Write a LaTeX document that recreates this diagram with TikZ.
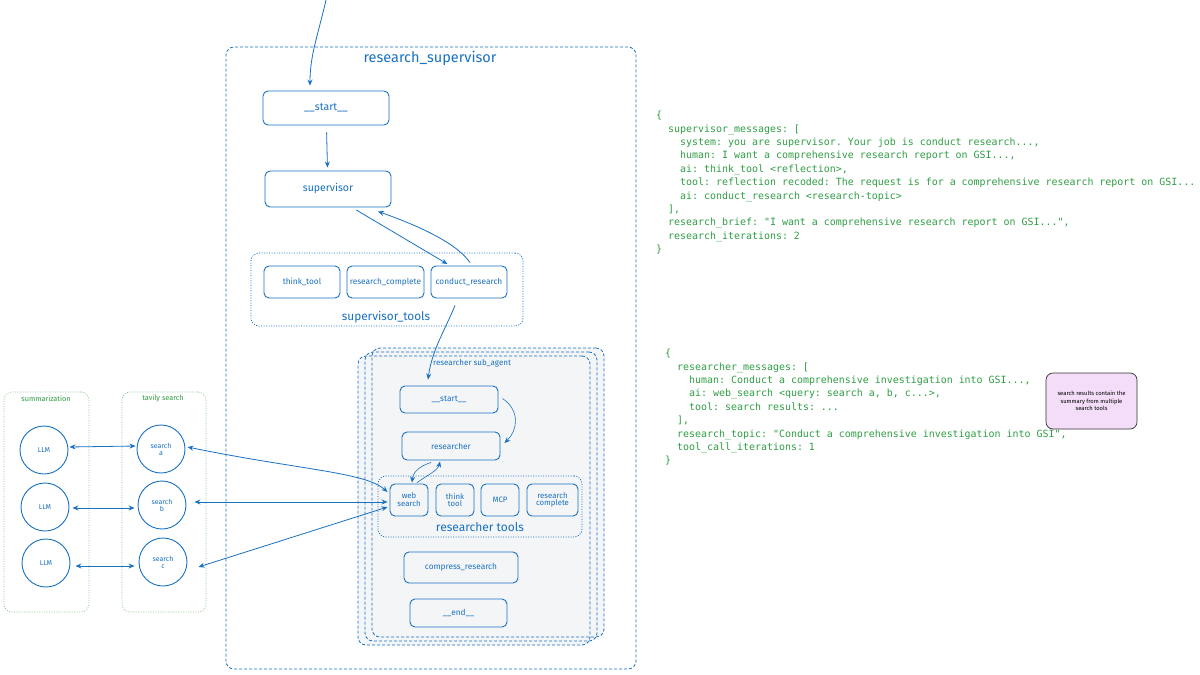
\documentclass[tikz,border=0pt]{standalone}
\usepackage{fontspec}
\setmainfont{Fira Sans}
\setmonofont{DejaVu Sans Mono}
\usetikzlibrary{arrows.meta}
\definecolor{exblue}{HTML}{1971C2}
\definecolor{exgreen}{HTML}{2F9E44}
\definecolor{lgreen}{HTML}{8CC896}
\definecolor{subfill}{HTML}{F3F5F7}
\definecolor{notefill}{HTML}{F3DDF8}
\newcommand{\ind}[1]{\hspace*{#1pt}}
\newcommand{\fs}[1]{\fontsize{#1}{#1}\selectfont}
\begin{document}
\begin{tikzpicture}[x=1pt,y=-1pt,
  box/.style={draw=exblue, line width=0.9pt, rounded corners=5pt, text=exblue, align=center, inner sep=0pt},
  circ/.style={draw=exblue, line width=0.9pt, circle, minimum size=48pt, text=exblue, align=center, inner sep=0pt, font=\fs{7}},
  dashbox/.style={draw=exblue, line width=0.8pt, rounded corners=8pt, dash pattern=on 3pt off 2pt, inner sep=0pt},
  dotbox/.style={draw=exblue, line width=0.8pt, rounded corners=8pt, dash pattern=on 1pt off 1.5pt, inner sep=0pt},
  gdotbox/.style={draw=lgreen, line width=0.7pt, rounded corners=8pt, dash pattern=on 1pt off 1.5pt, inner sep=0pt},
  lbl/.style={text=exblue, inner sep=0pt},
  glbl/.style={text=exgreen, inner sep=0pt, font=\fs{7.3}},
  arr/.style={draw=exblue, line width=0.8pt, -{Stealth[length=6pt,width=5pt]}},
  darr/.style={draw=exblue, line width=0.8pt, {Stealth[length=6pt,width=5pt]}-{Stealth[length=6pt,width=5pt]}},
  code/.style={text=exgreen, font=\ttfamily\fontsize{9.95}{13.4}\selectfont, align=left, anchor=north west, inner sep=0pt}
]
\fill[white] (0,0) rectangle (1200,675);
\useasboundingbox (0,0) rectangle (1200,675);

% research_supervisor container
\node[dashbox, minimum width=410pt, minimum height=622pt] (rs) at (431,358) {};
\node[lbl, font=\fs{14.5}] (rslbl) at (430,58) {research\_supervisor};

% supervisor graph
\node[box, minimum width=126pt, minimum height=34pt, font=\fs{10.5}] (start) at (326,108) {\_\_start\_\_};
\node[box, minimum width=126pt, minimum height=36pt, font=\fs{10.5}] (supervisor) at (328,189) {supervisor};

\node[dotbox, minimum width=272pt, minimum height=73pt] (suptools) at (387,289.5) {};
\node[lbl, font=\fs{11.8}] (suptoolslbl) at (386,317) {supervisor\_tools};
\node[box, minimum width=76pt, minimum height=32pt, font=\fs{8.3}] (think) at (302,282) {think\_tool};
\node[box, minimum width=77pt, minimum height=32pt, font=\fs{8.3}] (rcomplete) at (385.5,282) {research\_complete};
\node[box, minimum width=76pt, minimum height=32pt, font=\fs{8.3}] (conduct) at (469,282) {conduct\_research};

% incoming arrow
\coordinate (in) at (326,0);
\draw[arr] (in) .. controls (318,35) and (310,55) .. ([xshift=-16pt,yshift=5pt]start.north);
\draw[arr, shorten <=7pt, shorten >=3pt] (start) -- (supervisor);
\draw[arr, shorten <=5pt, shorten >=3pt] ([xshift=24pt]supervisor.south) -- ([xshift=-19pt]conduct.north);
\draw[arr] ([xshift=1pt,yshift=3pt]conduct.north) .. controls (458,245) and (425,228) .. ([xshift=50pt,yshift=-4pt]supervisor.south);

% researcher sub_agent stack
\fill[subfill, rounded corners=8pt] (358,356) rectangle (590,645);
\fill[subfill, rounded corners=8pt] (365,352) rectangle (597,641);
\fill[subfill, rounded corners=8pt] (372,348) rectangle (604,637);
\node[dashbox, minimum width=232pt, minimum height=289pt] (sa3) at (488,492.5) {};
\node[dashbox, minimum width=232pt, minimum height=289pt] (sa2) at (481,496.5) {};
\node[dashbox, minimum width=232pt, minimum height=289pt] (sa1) at (474,500.5) {};
\node[lbl, font=\fs{8}, anchor=west] (salbl) at (433,363) {researcher sub\_agent};

\node[box, minimum width=98pt, minimum height=27pt, font=\fs{8.3}] (sastart) at (449,399.5) {\_\_start\_\_};
\node[box, minimum width=98pt, minimum height=28pt, font=\fs{8.3}] (researcher) at (451,446) {researcher};

\node[dotbox, minimum width=204pt, minimum height=61pt] (rtools) at (480,506.5) {};
\node[lbl, font=\fs{12}] (rtoolslbl) at (480,527) {researcher tools};
\node[box, minimum width=38pt, minimum height=32pt, font=\fs{7.8}] (web) at (409,500) {web\\[0pt]search};
\node[box, minimum width=38pt, minimum height=32pt, font=\fs{7.8}] (thinkt) at (455,500) {think\\[0pt]tool};
\node[box, minimum width=38pt, minimum height=32pt, font=\fs{7.8}] (mcp) at (500,500) {MCP};
\node[box, minimum width=51pt, minimum height=32pt, font=\fs{7.8}] (rescomp) at (552.5,500) {research\\[0pt]complete};

\node[box, minimum width=114pt, minimum height=31pt, font=\fs{8.3}] (compress) at (461,567.5) {compress\_research};
\node[box, minimum width=97pt, minimum height=28pt, font=\fs{8.3}] (endn) at (458.5,613) {\_\_end\_\_};

\draw[arr] ([xshift=-14pt,yshift=-7pt]conduct.south) .. controls (445,330) and (432,350) .. ([xshift=-21pt,yshift=6pt]sastart.north);
\draw[arr, line width=0.6pt] ([xshift=4pt,yshift=1pt]sastart.east) .. controls (520,410) and (518,430) .. ([xshift=4pt,yshift=3pt]researcher.east);
\draw[arr, line width=0.6pt] ([xshift=-20pt,yshift=-2pt]researcher.south) .. controls (420,466) and (413,472) .. ([xshift=3pt,yshift=1pt]web.north);
\draw[arr, line width=0.6pt] ([xshift=8pt,yshift=1pt]web.north) .. controls (428,475) and (438,470) .. ([xshift=-11pt,yshift=-1pt]researcher.south);

% summarization & tavily search
\node[gdotbox, minimum width=85pt, minimum height=220pt] (summ) at (46.5,502) {};
\node[glbl] (summlbl) at (46,399) {summarization};
\node[gdotbox, minimum width=84pt, minimum height=220pt] (tav) at (164,502) {};
\node[glbl] (tavlbl) at (163,398) {tavily search};

\node[circ] (llma) at (44,450) {LLM};
\node[circ] (llmb) at (45,507) {LLM};
\node[circ] (llmc) at (46,563) {LLM};
\node[circ] (sa) at (161,449) {search\\a};
\node[circ] (sb) at (162,505) {search\\b};
\node[circ] (sc) at (163,562) {search\\c};

\draw[darr, shorten <=1pt, shorten >=1pt] ([yshift=3pt]llma.east) -- ([yshift=3pt]sa.west);
\draw[darr, shorten <=3pt, shorten >=3pt] ([yshift=-1pt]llmb.east) -- ([yshift=-3pt]sb.west);
\draw[darr, shorten <=5pt, shorten >=4pt] ([yshift=-3pt]llmc.east) -- ([yshift=-4pt]sc.west);

\draw[darr] ([xshift=2pt,yshift=2pt]sa.east) .. controls (300,470) and (365,472) .. ([xshift=-2pt,yshift=8pt]web.west);
\draw[darr] ([xshift=8pt,yshift=3pt]sb.east) -- ([xshift=-2pt,yshift=-2pt]web.west);
\draw[darr] ([xshift=11pt,yshift=-5pt]sc.east) -- ([xshift=-2pt,yshift=-7pt]web.west);

% state panels
\node[code] (sup state) at (656,111) {\{\\
\ind{12}supervisor\_messages: [\\
\ind{24}system: you are supervisor. Your job is conduct research...,\\
\ind{24}human: I want a comprehensive research report on GSI...,\\
\ind{24}ai: think\_tool <reflection>,\\
\ind{24}tool: reflection recoded: The request is for a comprehensive research report on GSI...\\
\ind{24}ai: conduct\_research <research-topic>\\
\ind{12}],\\
\ind{12}research\_brief: "I want a comprehensive research report on GSI...",\\
\ind{12}research\_iterations: 2\\
\}};

\node[code] (res state) at (665,349) {\{\\
\ind{12}researcher\_messages: [\\
\ind{24}human: Conduct a comprehensive investigation into GSI...,\\
\ind{24}ai: web\_search <query: search a, b, c...>,\\
\ind{24}tool: search results: ...\\
\ind{12}],\\
\ind{12}research\_topic: "Conduct a comprehensive investigation into GSI",\\
\ind{12}tool\_call\_iterations: 1\\
\}};

\node[draw=black!80, fill=notefill, line width=0.7pt, rounded corners=7pt, minimum width=91pt, minimum height=56pt, align=center, inner sep=0pt, font=\fs{5.8}] (note) at (1091.5,401) {search results contain the\\[1.5pt]summary from multiple\\[1.5pt]search tools};
\end{tikzpicture}
\end{document}
